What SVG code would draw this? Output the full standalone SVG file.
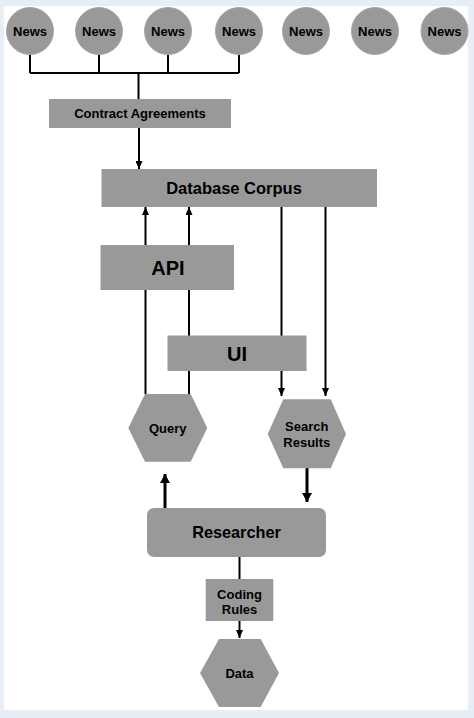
<svg xmlns="http://www.w3.org/2000/svg" width="474" height="718" viewBox="0 0 474 718">
<style>
  .shape { fill: #999999; }
  .circ { fill: #999999; stroke: #a6a6a6; stroke-width: 1; }
  .t { font-family: "Liberation Sans", Arial, sans-serif; font-weight: bold; fill: #000000; text-anchor: middle; }
  .line { stroke: #000000; stroke-width: 2; fill: none; }
  .thick { stroke: #000000; stroke-width: 3; fill: none; }
</style>
<defs>
  <marker id="ah" viewBox="0 0 8 7" refX="8" refY="3.5" markerWidth="8" markerHeight="7" markerUnits="userSpaceOnUse" orient="auto">
    <path d="M0,0 L8,3.5 L0,7 Z" fill="#000000"/>
  </marker>
  <marker id="ahb" viewBox="0 0 9 10" refX="9" refY="5" markerWidth="9" markerHeight="10" markerUnits="userSpaceOnUse" orient="auto">
    <path d="M0,0 L9,5 L0,10 Z" fill="#000000"/>
  </marker>
</defs>
<rect x="0" y="0" width="474" height="718" fill="#e7eef6"/>
<rect x="4" y="6" width="464" height="704" fill="#ffffff"/>

<g id="connectors">
  <path class="line" d="M30,54 V73 M99,54 V73 M168,54 V73 M239,54 V73 M30,73 H239 M138.5,73 V99"/>
  <path class="line" d="M139,128 V169" marker-end="url(#ah)"/>
  <path class="line" d="M145.5,394 V207" marker-end="url(#ah)"/>
  <path class="line" d="M189,394 V207" marker-end="url(#ah)"/>
  <path class="line" d="M281.5,207 V396" marker-end="url(#ah)"/>
  <path class="line" d="M325.5,207 V396" marker-end="url(#ah)"/>
  <path class="thick" d="M165,508 V474" marker-end="url(#ahb)"/>
  <path class="thick" d="M307,468 V502" marker-end="url(#ahb)"/>
  <path class="line" d="M239.5,557 V579"/>
  <path class="line" d="M239.5,621 V638" marker-end="url(#ah)"/>
</g>

<g id="news1"><circle class="circ" cx="30" cy="31" r="23.5"/><text class="t" x="30" y="35.7" font-size="13">News</text></g>
<g id="news2"><circle class="circ" cx="99" cy="31" r="23.5"/><text class="t" x="99" y="35.7" font-size="13">News</text></g>
<g id="news3"><circle class="circ" cx="168" cy="31" r="23.5"/><text class="t" x="168" y="35.7" font-size="13">News</text></g>
<g id="news4"><circle class="circ" cx="239" cy="31" r="23.5"/><text class="t" x="239" y="35.7" font-size="13">News</text></g>
<g id="news5"><circle class="circ" cx="306" cy="31" r="23.5"/><text class="t" x="306" y="35.7" font-size="13">News</text></g>
<g id="news6"><circle class="circ" cx="375" cy="31" r="23.5"/><text class="t" x="375" y="35.7" font-size="13">News</text></g>
<g id="news7"><circle class="circ" cx="444.5" cy="31" r="23.5"/><text class="t" x="444.5" y="35.7" font-size="13">News</text></g>

<g id="contract"><rect class="shape" x="49" y="99" width="182" height="29"/><text class="t" x="140" y="118.3" font-size="13">Contract Agreements</text></g>

<g id="database"><rect class="shape" x="101.5" y="169" width="275.5" height="38"/><text class="t" x="234" y="193.5" font-size="16.5">Database Corpus</text></g>

<g id="api"><rect class="shape" x="100.5" y="245" width="133.5" height="45"/><text class="t" x="168" y="275" font-size="20">API</text></g>

<g id="ui"><rect class="shape" x="167.5" y="335.5" width="139" height="35.5"/><text class="t" x="237" y="360.5" font-size="20">UI</text></g>

<g id="query"><polygon class="shape" points="128.3,428 145,394 190.7,394 207.3,428 190.7,461.7 145,461.7"/><text class="t" x="167.8" y="433" font-size="13">Query</text></g>

<g id="search"><polygon class="shape" points="267.7,434 283.3,399.3 330.7,399.3 346,434 330.7,468.3 283.3,468.3"/><text class="t" x="306.8" y="430.7" font-size="13">Search</text><text class="t" x="306.8" y="446.7" font-size="13">Results</text></g>

<g id="researcher"><rect class="shape" x="147" y="508" width="179" height="49" rx="7" ry="7"/><text class="t" x="236.5" y="538" font-size="16.3">Researcher</text></g>

<g id="coding"><rect class="shape" x="205.7" y="579" width="67.6" height="42"/><text class="t" x="239.5" y="599.3" font-size="13">Coding</text><text class="t" x="239.5" y="614" font-size="13">Rules</text></g>

<g id="data"><polygon class="shape" points="200,673 219,639 260.7,639 279,673 260.7,707 219,707"/><text class="t" x="239.5" y="678.3" font-size="13">Data</text></g>
</svg>
